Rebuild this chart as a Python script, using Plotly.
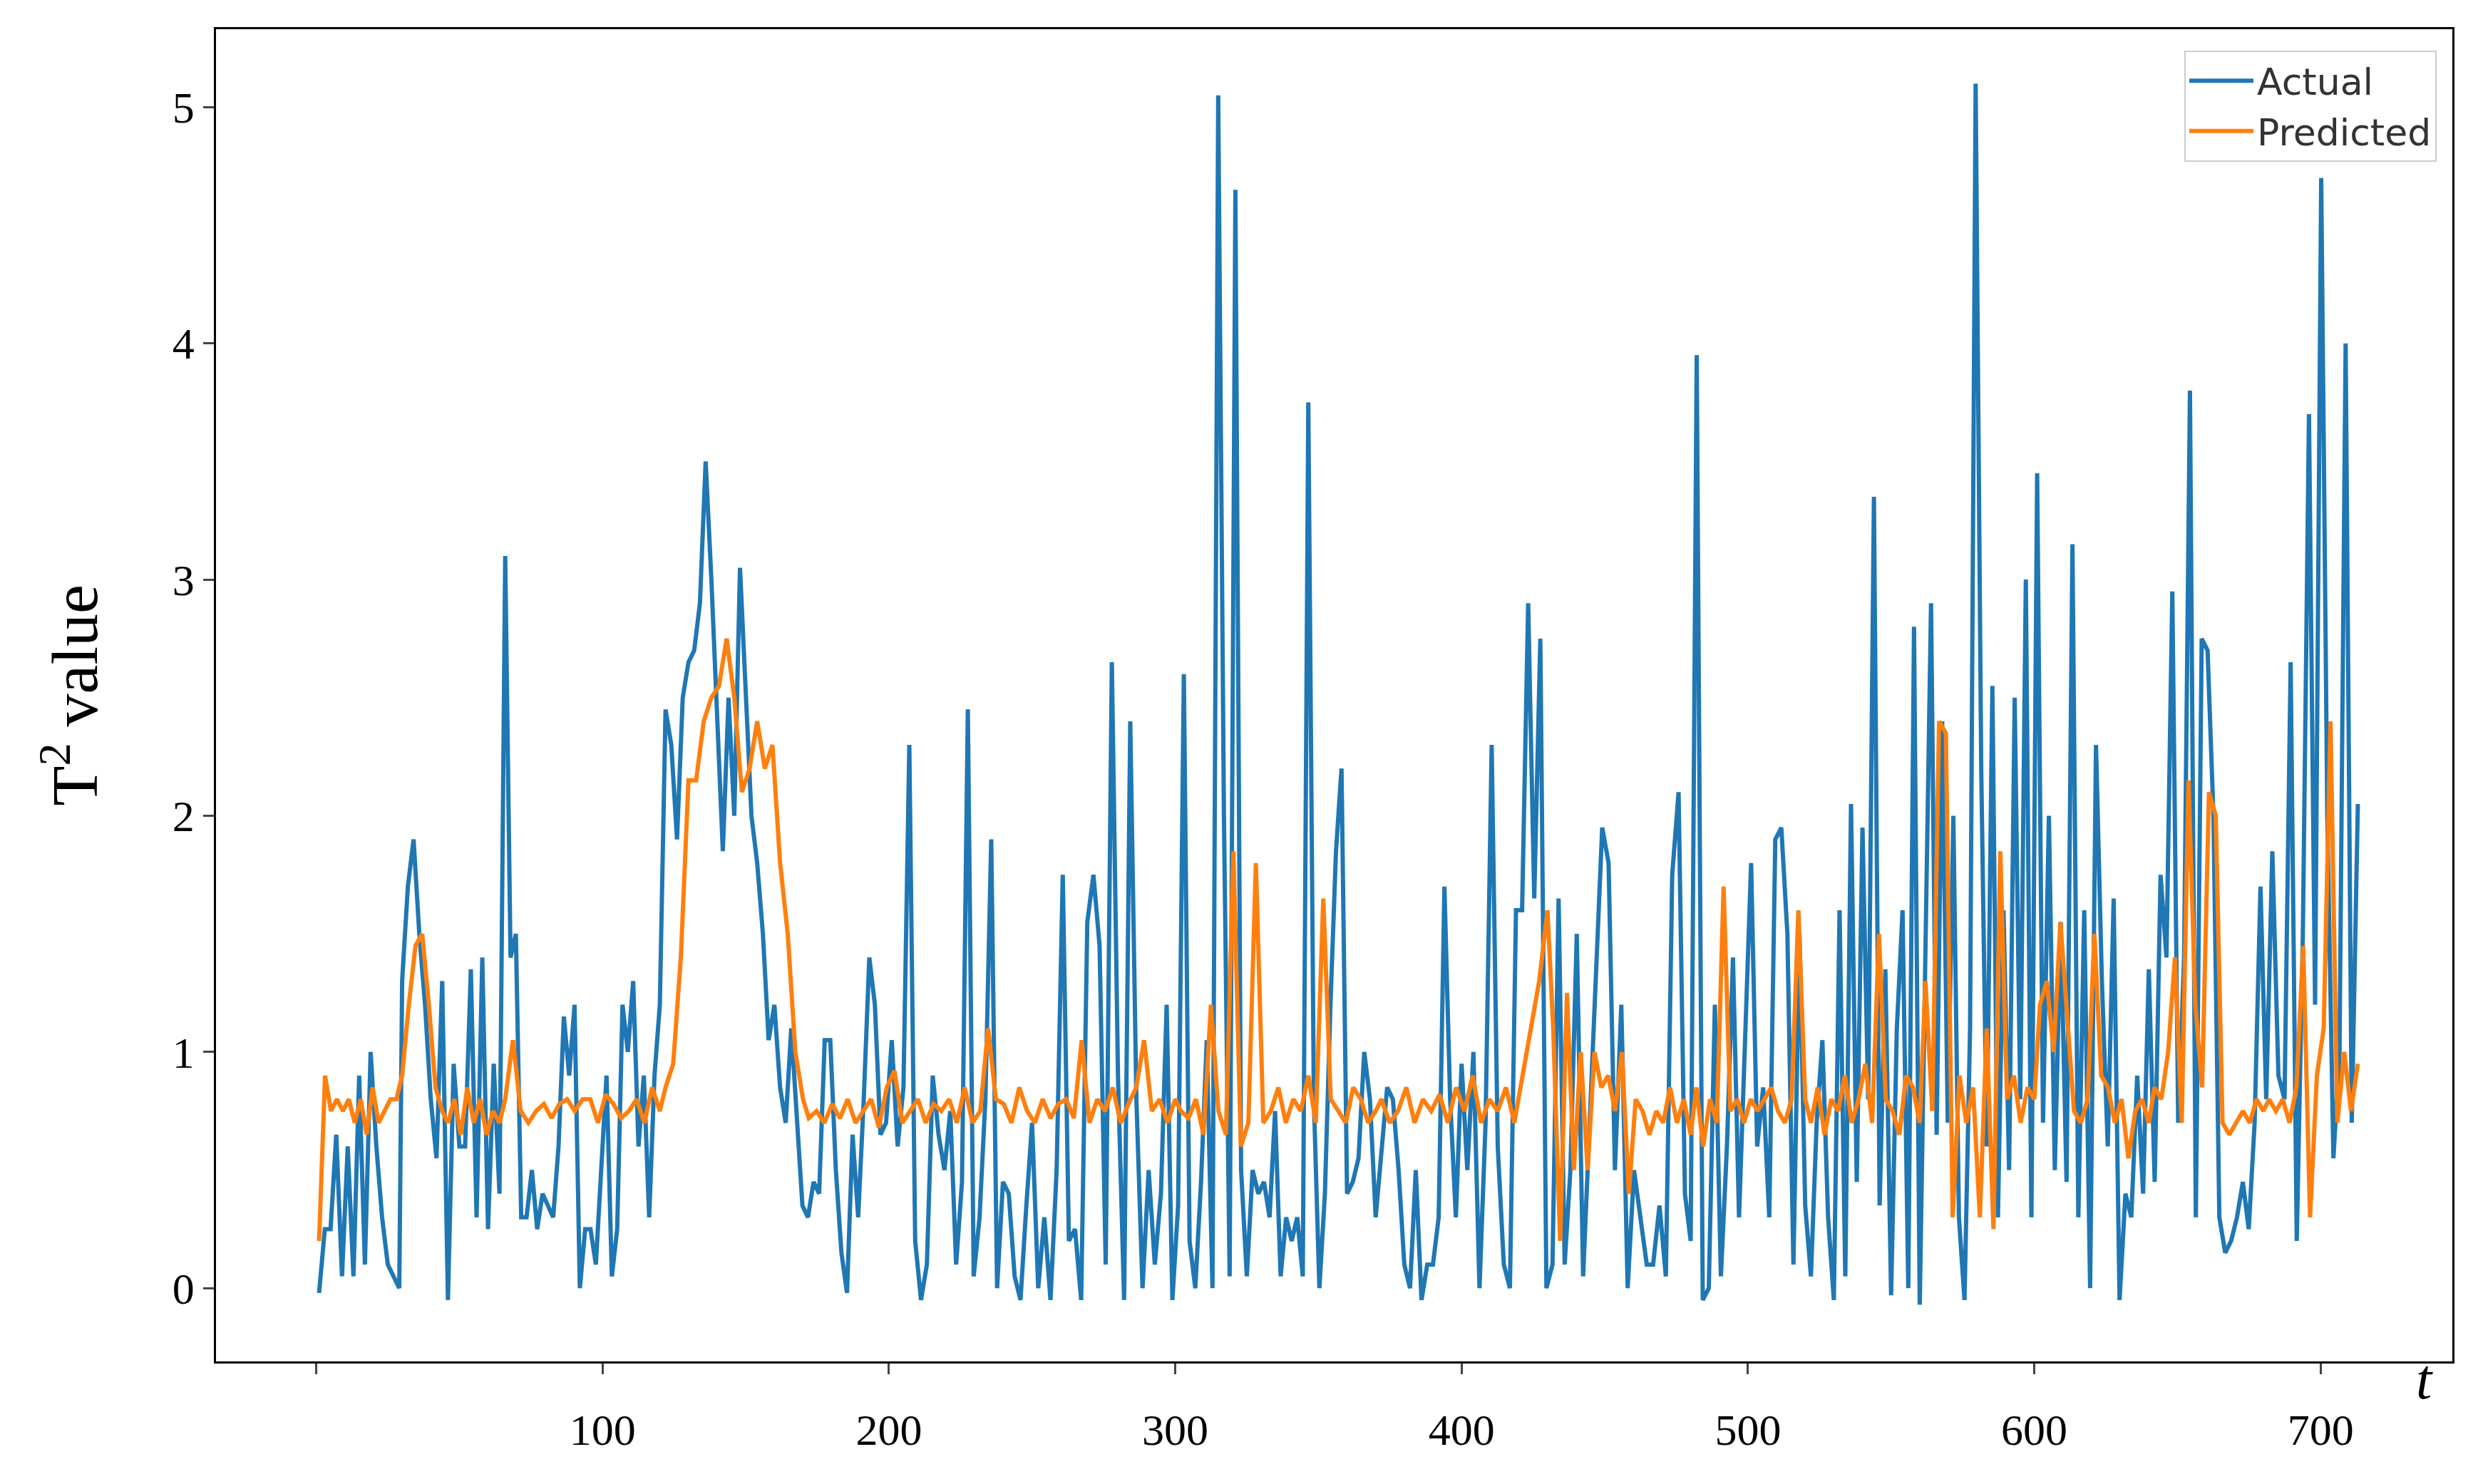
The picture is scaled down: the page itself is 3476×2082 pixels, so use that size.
import numpy as np
import plotly.graph_objects as go

# (t_start, t_end, values), segment by segment
actual_segments = [
    (1, 29, [-0.02, 0.25, 0.25, 0.65, 0.05, 0.6, 0.05, 0.9, 0.1, 1.0, 0.6, 0.3, 0.1, 0.05, 0.0]),
    (30, 38, [1.3, 1.7, 1.9, 1.5, 1.2]),
    (40, 64, [0.8, 0.55, 1.3, -0.05, 0.95, 0.6, 0.6, 1.35, 0.3, 1.4, 0.25, 0.95, 0.4]),
    (66, 120, [3.1, 1.4, 1.5, 0.3, 0.3, 0.5, 0.25, 0.4, 0.35, 0.3, 0.6, 1.15, 0.9, 1.2, 0.0,
               0.25, 0.25, 0.1, 0.5, 0.9, 0.05, 0.25, 1.2, 1.0, 1.3, 0.6, 0.9, 0.3, 0.9, 1.2]),
    (122, 160, [2.45, 2.3, 1.9, 2.5, 2.65, 2.7, 2.9, 3.5, 3.0, 2.4, 1.85, 2.5, 2.0, 3.05, 2.5,
                2.0, 1.8, 1.5, 1.05, 1.2]),
    (162, 199, [0.85, 0.7, 1.1, 0.7, 0.35, 0.3, 0.45, 0.4, 1.05, 1.05, 0.5, 0.15, -0.02, 0.65,
                0.3, 0.8, 1.4, 1.2, 0.65, 0.7]),
    (201, 248, [1.05, 0.6, 0.85, 2.3, 0.2, -0.05, 0.1, 0.9, 0.65, 0.5, 0.75, 0.1, 0.45, 2.45,
                0.05, 0.3, 0.8, 1.9, 0.0, 0.45, 0.4, 0.05, -0.05, 0.35]),
    (250, 295, [0.7, 0.0, 0.3, -0.05, 0.5, 1.75, 0.2, 0.25, -0.05, 1.55, 1.75, 1.45, 0.1, 2.65,
                0.9, -0.05, 2.4, 0.8, 0.0, 0.5, 0.1, 0.4]),
    (297, 329, [1.2, -0.05, 0.35, 2.6, 0.2, 0.0, 0.45, 1.05, 0.0, 5.05, 2.0, 0.05, 4.65, 0.5,
                0.05, 0.5, 0.4]),
    (331, 360, [0.45, 0.3, 0.75, 0.05, 0.3, 0.2, 0.3, 0.05, 3.75, 0.8, 0.0, 0.4, 1.2, 1.85, 2.2, 0.4]),
    (362, 400, [0.45, 0.55, 1.0, 0.8, 0.3, 0.6, 0.85, 0.8, 0.5, 0.1, 0.0, 0.5, -0.05, 0.1, 0.1,
                0.3, 1.7, 0.8, 0.3, 0.95]),
    (402, 436, [0.5, 1.0, 0.0, 0.7, 2.3, 0.6, 0.1, 0.0, 1.6, 1.6, 2.9, 1.65, 2.75, 0.0, 0.1, 1.65, 0.1]),
    (438, 478, [0.5, 1.5, 0.05, 0.7, 1.3, 1.95, 1.8, 0.5, 1.2, 0.0, 0.5, 0.3, 0.1, 0.1, 0.35,
                0.05, 1.75, 2.1, 0.4]),
    (480, 518, [0.2, 3.95, -0.05, 0.0, 1.2, 0.05, 0.6, 1.4, 0.3, 1.0, 1.8, 0.6, 0.85, 0.3, 1.9,
                1.95, 1.5, 0.1, 1.5]),
    (520, 560, [0.35, 0.05, 0.7, 1.05, 0.3, -0.05, 1.6, 0.05, 2.05, 0.45, 1.95, 0.8, 3.35, 0.35,
                1.35, -0.03, 1.1, 1.6, 0.0, 2.8, -0.07]),
    (562, 599, [1.5, 2.9, 0.65, 2.4, 0.7, 2.0, 0.3, -0.05, 1.1, 5.1, 2.2, 0.6, 2.55, 0.3, 1.6,
                0.5, 2.5, 0.8, 3.0, 0.3]),
    (601, 638, [3.45, 0.7, 2.0, 0.5, 1.55, 0.45, 3.15, 0.3, 1.6, 0.0, 2.3, 1.3, 0.6, 1.65, -0.05,
                0.4, 0.3, 0.9, 0.4]),
    (640, 679, [1.35, 0.45, 1.75, 1.4, 2.95, 0.7, 1.4, 3.8, 0.3, 2.75, 2.7, 2.0, 0.3, 0.15, 0.2,
                0.3, 0.45, 0.25, 0.7, 1.7]),
    (681, 713, [0.8, 1.85, 0.9, 0.8, 2.65, 0.2, 1.5, 3.7, 1.2, 4.7, 2.0, 0.55, 1.0, 4.0, 0.7, 2.05]),
]

predicted_segments = [
    (1, 28, [0.2, 0.9, 0.75, 0.8, 0.75, 0.8, 0.7, 0.8, 0.65, 0.85, 0.7, 0.75, 0.8, 0.8]),
    (30, 44, [0.9, 1.2, 1.45, 1.5, 1.2, 0.85, 0.75]),
    (46, 64, [0.7, 0.8, 0.65, 0.85, 0.7, 0.8, 0.65, 0.75, 0.7]),
    (66, 120, [0.8, 1.05, 0.75, 0.7, 0.75, 0.78, 0.72, 0.78, 0.8, 0.75, 0.8, 0.8, 0.7, 0.82,
               0.78, 0.72, 0.75, 0.8, 0.7, 0.85, 0.75]),
    (122, 170, [0.85, 0.95, 1.4, 2.15, 2.15, 2.4, 2.5, 2.55, 2.75, 2.5, 2.1, 2.2, 2.4, 2.2, 2.3,
                1.8, 1.5, 1.0, 0.8]),
    (172, 300, [0.72, 0.75, 0.7, 0.78, 0.72, 0.8, 0.7, 0.75, 0.8, 0.68, 0.85, 0.92, 0.7, 0.75,
                0.8, 0.7, 0.78, 0.75, 0.8, 0.7, 0.85, 0.7, 0.75, 1.1, 0.8, 0.78, 0.7, 0.85, 0.75,
                0.7, 0.8, 0.72, 0.78, 0.8, 0.72, 1.05, 0.7, 0.8, 0.75, 0.85, 0.7, 0.78, 0.85,
                1.05, 0.75, 0.8, 0.7, 0.8]),
    (302, 370, [0.75, 0.72, 0.8, 0.65, 1.2, 0.75, 0.65, 1.85, 0.6, 0.7, 1.8, 0.7, 0.75, 0.85,
                0.7, 0.8, 0.75, 0.9, 0.7, 1.65, 0.8, 0.75, 0.7, 0.85, 0.8, 0.7, 0.75]),
    (372, 430, [0.8, 0.7, 0.75, 0.85, 0.7, 0.8, 0.75, 0.82, 0.7, 0.85, 0.75, 0.9, 0.7, 0.8, 0.75,
                0.85, 0.7, 0.9, 1.1, 1.3, 1.6]),
    (432, 480, [1.1, 0.2, 1.25, 0.5, 1.0, 0.5, 1.0, 0.85, 0.9, 0.75, 1.0, 0.4, 0.8, 0.75, 0.65,
                0.75, 0.7, 0.85, 0.7, 0.8, 0.65]),
    (482, 520, [0.85, 0.6, 0.8, 0.7, 1.7, 0.75, 0.8, 0.7, 0.8, 0.75, 0.8, 0.85, 0.75, 0.7, 0.8, 1.6, 0.8]),
    (522, 560, [0.7, 0.85, 0.65, 0.8, 0.75, 0.9, 0.7, 0.8, 0.95, 0.7, 1.5, 0.8, 0.75, 0.65, 0.9, 0.85, 0.7]),
    (562, 600, [1.3, 0.75, 2.4, 2.35, 0.3, 0.9, 0.7, 0.85, 0.3, 1.1, 0.25, 1.85, 0.8, 0.9, 0.7, 0.85, 0.8]),
    (602, 640, [1.2, 1.3, 1.0, 1.55, 1.15, 0.75, 0.7, 0.8, 1.5, 0.9, 0.85, 0.7, 0.8, 0.55, 0.75, 0.8, 0.7]),
    (642, 680, [0.85, 0.8, 1.0, 1.4, 0.7, 2.15, 1.2, 0.85, 2.1, 2.0, 0.7, 0.65, 0.7, 0.75, 0.7, 0.8, 0.75]),
    (682, 713, [0.8, 0.75, 0.8, 0.7, 0.85, 1.45, 0.3, 0.9, 1.1, 2.4, 0.7, 1.0, 0.75, 0.95]),
]

x_tick_vals = [0, 100, 200, 300, 400, 500, 600, 700]
x_tick_text = ["", "100", "200", "300", "400", "500", "600", "700"]
y_tick_vals = [0, 1, 2, 3, 4, 5]


def unpack(segments):
    ts, vs = [], []
    for t0, t1, vals in segments:
        ts.extend(np.linspace(t0, t1, len(vals)))
        vs.extend(vals)
    return ts, vs


t_act, v_act = unpack(actual_segments)
t_pred, v_pred = unpack(predicted_segments)

fig = go.Figure()
fig.add_trace(go.Scatter(x=t_act, y=v_act, mode="lines", name="Actual",
                         line=dict(color="#1f77b4", width=6)))
fig.add_trace(go.Scatter(x=t_pred, y=v_pred, mode="lines", name="Predicted",
                         line=dict(color="#ff7f0e", width=6)))

serif = "Liberation Serif"
fig.update_layout(
    width=3476, height=2082,
    margin=dict(l=295, r=44, t=33, b=180),
    plot_bgcolor="white", paper_bgcolor="white",
    showlegend=True,
    legend=dict(x=0.993, y=0.984, xanchor="right", yanchor="top",
                bordercolor="#cccccc", borderwidth=2, bgcolor="rgba(255,255,255,0.8)",
                itemwidth=90, tracegroupgap=10,
                font=dict(family="DejaVu Sans", size=52, color="#333")),
    annotations=[dict(text="<i>t</i>", x=0.992, y=-0.038, xref="paper", yref="paper",
                      showarrow=False, font=dict(family=serif, size=80, color="black"))],
)
fig.update_xaxes(range=[-35, 746], tickvals=x_tick_vals, ticktext=x_tick_text,
                 showgrid=False, zeroline=False, showline=True, linecolor="black",
                 linewidth=2.5, mirror=True, ticks="outside", ticklen=15, tickwidth=2.5,
                 ticklabelstandoff=25,
                 tickfont=dict(family=serif, size=62, color="black"))
fig.update_yaxes(range=[-0.31, 5.33], tickvals=y_tick_vals,
                 showgrid=False, zeroline=False, showline=True, linecolor="black",
                 linewidth=2.5, mirror=True, ticks="outside", ticklen=15, tickwidth=2.5,
                 tickfont=dict(family=serif, size=62, color="black"),
                 title=dict(text="T<sup>2</sup> value", standoff=75,
                            font=dict(family=serif, size=92, color="black")))

fig.write_html("out.html")
